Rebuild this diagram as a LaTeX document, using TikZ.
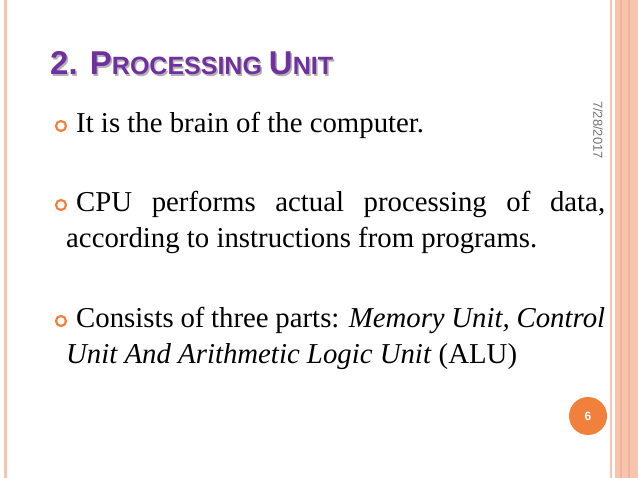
\documentclass[tikz,border=0pt]{standalone}
\usepackage{fontspec}
\setmainfont{Liberation Serif}
\newfontfamily\sansf{Liberation Sans}
\definecolor{border}{HTML}{F7C4AE}
\definecolor{borderdk}{HTML}{F4B49A}
\definecolor{ttl}{HTML}{7030A0}
\definecolor{org}{HTML}{F0803C}
\tikzset{body/.style={anchor=base west,inner sep=0pt,font=\fontsize{28.8}{32}\selectfont},
 bul/.style={circle,draw=org,line width=2.2pt,minimum size=10pt,inner sep=0pt}}
\newcommand{\ttlt}{{\fontsize{33}{35}\selectfont 2. P}{\fontsize{25}{28}\selectfont ROCESSING }{\fontsize{33}{35}\selectfont U}{\fontsize{25}{28}\selectfont NIT}}
\begin{document}
\begin{tikzpicture}[x=1pt,y=-1pt]
\useasboundingbox (0,0) rectangle (638,478);
\fill[white] (0,0) rectangle (638,478);
\fill[border] (4,0) rectangle (7,478);
\fill[border] (610,0) rectangle (612,478);
\fill[border] (615,0) rectangle (638,478);
\fill[borderdk] (620,0) rectangle (622,478);
\fill[borderdk] (628,0) rectangle (630,478);
\node[anchor=base west,inner sep=0pt,text=black!30,font=\sansf\bfseries] (tsh) at (51.5,76.5) {\ttlt};
\node[anchor=base west,inner sep=0pt,text=ttl,font=\sansf\bfseries] (t) at (50,75) {\ttlt};
\node[bul] (b1) at (61,126) {};
\node[body] (l1) at (76,133) {It is the brain of the computer.};
\node[bul] (b2) at (61,205) {};
\node[body] (l2) at (76,212) {\makebox[529pt][s]{CPU performs actual processing of data,}};
\node[body] (l2b) at (66,248) {according to instructions from programs.};
\node[bul] (b3) at (61,321) {};
\node[body] (l3) at (76,328) {\makebox[529pt][s]{Consists of three parts: \textit{Memory Unit, Control}}};
\node[body] (l3b) at (66,364) {\textit{Unit And Arithmetic Logic Unit} (ALU)};
\node[rotate=-90,inner sep=0pt,text=black!55,font=\sansf\fontsize{13}{14}\selectfont] (d) at (598,130) {7/28/2017};
\node[circle,fill=org,minimum size=38pt,inner sep=0pt,text=white,font=\sansf\bfseries\fontsize{12}{13}\selectfont] (n) at (588,416) {6};
\end{tikzpicture}
\end{document}
